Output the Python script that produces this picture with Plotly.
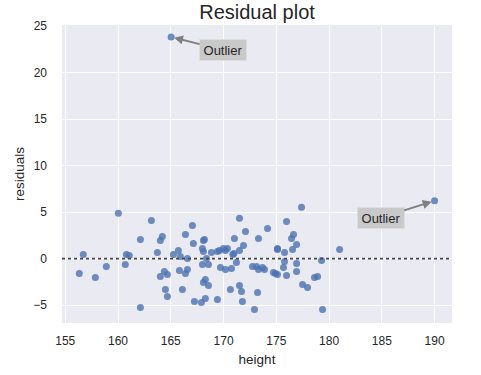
import plotly.graph_objects as go

height = [
    156.33, 156.71, 157.85, 158.89, 160.03, 160.69, 160.79, 161.07, 162.12, 162.12,
    163.16, 163.73, 164.01, 164.20, 164.01, 164.39, 164.68, 164.49, 164.68, 165.25,
    165.72, 165.91, 166.58, 165.82, 166.39, 166.58, 166.10, 166.39, 167.05, 167.14,
    167.24, 167.90, 168.28, 168.09, 168.28, 168.57, 168.00, 168.57, 168.38, 168.00,
    168.09, 168.09, 168.19, 168.85, 169.42, 169.61, 169.99, 170.18, 170.37, 170.88,
    170.98, 171.51, 171.89, 171.03, 171.51, 172.08, 171.22, 169.71, 170.18, 170.75,
    169.42, 170.65, 171.51, 171.70, 171.79, 172.74, 173.12, 173.31, 173.69, 173.88,
    173.31, 174.17, 173.22, 172.93, 174.73, 174.92, 175.11, 175.11, 175.11, 175.78,
    175.78, 175.68, 175.97, 175.97, 176.44, 176.63, 176.92, 176.54, 176.92, 176.92,
    177.39, 177.49, 177.96, 178.62, 178.91, 179.29, 179.38, 181.00, 165.03, 190.00,
]
residuals = [
    -1.59, 0.45, -2.02, -0.84, 4.87, -0.62, 0.45, 0.34, 2.07, -5.25,
    4.11, 0.67, 1.96, 2.39, -1.92, -1.38, -1.70, -3.32, -4.07, 0.45,
    0.88, 0.24, 0.02, -1.27, -1.59, -1.16, -3.32, 2.60, 3.57, 1.64,
    -4.61, -4.71, -4.28, -2.56, -2.24, -2.88, -0.62, -0.62, 0.02, 1.10,
    0.78, 1.96, 2.07, 0.67, 0.78, 0.88, 1.10, 0.88, 1.10, 0.45,
    0.56, 0.88, 1.42, 2.17, 4.33, 2.93, -0.41, -0.95, -1.16, -1.05,
    -4.39, -3.32, -2.88, -3.53, -4.61, -0.84, -0.84, -1.16, -0.95, -1.16,
    2.17, 3.25, -3.64, -5.47, -1.49, -1.59, -1.70, 1.10, 0.99, 0.67,
    -0.30, -0.95, -1.81, 4.00, 2.17, 2.60, 1.53, 0.99, -0.52, -1.38,
    5.51, -2.78, -3.10, -2.02, -1.92, -0.19, -5.47, 0.99, 23.81, 6.22,
]

outlier_x = [165.03, 190.00]
outlier_y = [23.81, 6.22]
outlier_labels = ["Outlier", "Outlier"]

x_ticks = [155, 160, 165, 170, 175, 180, 185, 190]
y_ticks = [-5, 0, 5, 10, 15, 20, 25]

FONT = "Liberation Sans, Arial, sans-serif"
TXT = "#262626"

fig = go.Figure()
fig.add_trace(go.Scatter(
    x=height, y=residuals, mode="markers",
    marker=dict(color="#4C72B0", size=7, opacity=0.8, line=dict(width=0)),
    showlegend=False, hoverinfo="x+y",
))

fig.add_hline(y=0, line=dict(color="#474747", width=1.8, dash="dot"), layer="above")

offsets = [(52, 13), (-54, 17)]
for xv, yv, lab, (ax, ay) in zip(outlier_x, outlier_y, outlier_labels, offsets):
    fig.add_annotation(
        x=xv, y=yv, text=lab, showarrow=True,
        ax=ax, ay=ay, axref="pixel", ayref="pixel",
        arrowcolor="#808080", arrowwidth=2, arrowhead=2, arrowsize=0.9,
        standoff=3,
        font=dict(family=FONT, size=13, color=TXT),
        bgcolor="#c9c9c9", bordercolor="#dedede", borderwidth=1,
        borderpad=2, width=42, height=16,
    )

fig.update_layout(
    width=481, height=375,
    margin=dict(l=62, r=29, t=25, b=52),
    paper_bgcolor="white", plot_bgcolor="#EAEAF2",
    font=dict(family=FONT, size=12, color=TXT),
    title=dict(text="Residual plot", x=0.5, xref="paper", xanchor="center",
               y=1 - 12 / 375, yref="container", yanchor="middle",
               font=dict(family=FONT, size=20, color=TXT)),
)
fig.update_xaxes(
    range=[154.69, 191.65], tickvals=x_ticks, ticktext=[str(v) for v in x_ticks],
    showgrid=True, gridcolor="white", gridwidth=1, zeroline=False, showline=False,
    ticks="", ticklabelstandoff=9,
    tickfont=dict(family=FONT, size=12, color=TXT),
    title=dict(text="height", font=dict(family=FONT, size=13.5, color=TXT), standoff=7),
)
fig.update_yaxes(
    range=[-6.91, 25.10], tickvals=y_ticks,
    showgrid=True, gridcolor="white", gridwidth=1, zeroline=False, showline=False,
    ticks="", ticklabelstandoff=14,
    tickfont=dict(family=FONT, size=12, color=TXT),
    title=dict(text="residuals", font=dict(family=FONT, size=13.5, color=TXT), standoff=5),
)

fig.write_html("out.html", config={"displayModeBar": False},
               post_script="document.body.style.margin='0';")
